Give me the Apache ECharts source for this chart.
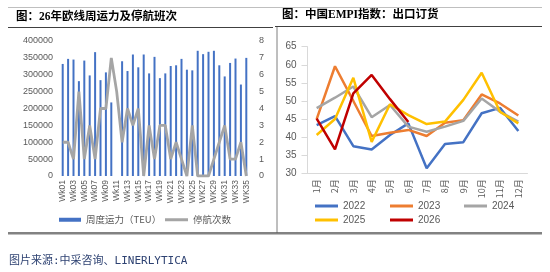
<!DOCTYPE html>
<html>
<head>
<meta charset="utf-8">
<title>欧线周运力 / EMPI出口订货</title>
<script src="https://cdn.jsdelivr.net/npm/echarts@6/dist/echarts.min.js"></script>
<style>
  html, body { margin: 0; padding: 0; background: #fff; }
  #main { width: 550px; height: 272px; }
</style>
</head>
<body>
<div id="main"></div>
<script>
// 左图：26年欧线周运力及停航班次
var weeks = ['Wk01', 'Wk02', 'Wk03', 'Wk04', 'Wk05', 'Wk06', 'Wk07', 'Wk08', 'Wk09', 'Wk10',
  'Wk11', 'Wk12', 'Wk13', 'Wk14', 'Wk15', 'Wk16', 'Wk17', 'Wk18', 'Wk19', 'WK20',
  'WK21', 'WK22', 'WK23', 'WK24', 'WK25', 'WK26', 'WK27', 'WK28', 'WK29', 'WK30',
  'WK31', 'WK32', 'WK33', 'WK34', 'WK35'];
var capacity = [332000, 347000, 345000, 281000, 342000, 298000, 367000, 284000, 307000, 218000,
  null, 340000, 311000, 360000, 322000, 360000, 304000, 353000, 290000, 304000,
  326000, 328000, 347000, 315000, 313000, 371000, 361000, 368000, 371000, 328000,
  295000, 335000, 348000, 271000, 350000];
var blankSailings = [2, 2, 1, 5, 1, 3, 1, 4, 4, 7,
  5, 2, 4, 3, 4, 0, 3, 1, 3, 3,
  1, 2, 1, 0, 3, 0, 0, 0, 1, 2,
  3, 1, 1, 2, 0];

// 右图：中国EMPI指数：出口订货
var months = ['1月', '2月', '3月', '4月', '5月', '6月', '7月', '8月', '9月', '10月', '11月', '12月'];
var empi2022 = [43.3, 45.8, 37.5, 36.6, 40.6, 43.8, 31.4, 38.1, 38.6, 46.6, 48.1, 41.7];
var empi2023 = [45.0, 59.6, 50.0, 40.3, 41.2, 42.0, 40.3, 44.0, 44.7, 51.8, 49.3, 46.0];
var empi2024 = [48.0, 50.9, 54.0, 45.5, 48.9, 42.9, 41.5, 42.9, 44.5, 50.7, 47.0, 44.3];
var empi2025 = [40.6, 45.0, 56.4, 38.7, 49.1, 46.1, 43.6, 44.3, 50.3, 57.8, 47.0, 43.8];
var empi2026 = [45.1, 36.6, 52.1, 57.2, 50.5, 44.2];

var years = ['2022', '2023', '2024', '2025', '2026'];
var yearData = [empi2022, empi2023, empi2024, empi2025, empi2026];
var yearColors = ['#4472C4', '#ED7D31', '#A5A5A5', '#FFC000', '#C00000'];
// 图例位置（两行排列）
var legendPos = [[315, 201], [390, 201], [464, 201], [315, 215], [390, 215]];

var labelColor = '#595959';
var numFont = 'Arial, "Liberation Sans", sans-serif';
var titleFont = '"Liberation Serif", "Noto Sans CJK SC", serif';
var cjkFont = '"Noto Sans CJK SC", sans-serif';

var myChart = echarts.init(document.getElementById('main'));

var lineSeries = years.map(function (y, i) {
  return {
    name: y,
    type: 'line',
    xAxisIndex: 1,
    yAxisIndex: 2,
    data: yearData[i],
    symbol: 'none',
    lineStyle: { color: yearColors[i], width: 2.5 },
    itemStyle: { color: yearColors[i] },
    z: 3 + i
  };
});

var yearLegends = years.map(function (y, i) {
  return {
    left: legendPos[i][0],
    top: legendPos[i][1],
    data: [y],
    icon: 'rect',
    itemWidth: 23,
    itemHeight: 3,
    padding: 0,
    textStyle: { color: labelColor, fontSize: 10, fontFamily: numFont }
  };
});

option = {
  animation: false,
  backgroundColor: '#fff',
  grid: [
    { left: 60, top: 41, width: 189, height: 135 },
    { left: 307.5, top: 46.7, width: 220, height: 126.6 }
  ],
  xAxis: [
    {
      gridIndex: 0,
      type: 'category',
      data: weeks,
      axisLine: { show: false },
      axisTick: { show: false },
      axisLabel: {
        interval: 1,
        rotate: 90,
        margin: 4,
        color: labelColor,
        fontSize: 8.5,
        fontFamily: numFont
      }
    },
    {
      gridIndex: 1,
      type: 'category',
      data: months,
      axisLine: { lineStyle: { color: '#D9D9D9', width: 1 } },
      axisTick: { show: false },
      axisLabel: {
        interval: 0,
        rotate: 90,
        margin: 6,
        color: labelColor,
        fontSize: 9,
        fontFamily: cjkFont
      }
    }
  ],
  yAxis: [
    {
      gridIndex: 0,
      type: 'value',
      min: 0,
      max: 400000,
      interval: 50000,
      splitLine: { show: false },
      axisLine: { show: false },
      axisTick: { show: false },
      axisLabel: {
        margin: 7, color: labelColor, fontSize: 9, fontFamily: numFont,
        formatter: function (v) { return String(v); }
      }
    },
    {
      gridIndex: 0,
      type: 'value',
      position: 'right',
      min: 0,
      max: 8,
      interval: 1,
      splitLine: { show: false },
      axisLine: { show: false },
      axisTick: { show: false },
      axisLabel: { margin: 10, color: labelColor, fontSize: 9, fontFamily: numFont }
    },
    {
      gridIndex: 1,
      type: 'value',
      min: 30,
      max: 65,
      interval: 5,
      splitLine: { show: false },
      axisLine: { show: true, lineStyle: { color: '#D9D9D9' } },
      axisTick: { show: true, length: 6, lineStyle: { color: '#D9D9D9' } },
      axisLabel: { margin: 11, color: labelColor, fontSize: 10, fontFamily: numFont }
    }
  ],
  legend: [
    {
      left: 59, top: 215, data: ['周度运力（TEU）'], icon: 'rect',
      itemWidth: 22, itemHeight: 4, padding: 0,
      textStyle: { color: labelColor, fontSize: 9.5, fontFamily: cjkFont }
    },
    {
      left: 165, top: 215, data: ['停航次数'], icon: 'rect',
      itemWidth: 23, itemHeight: 3, padding: 0,
      textStyle: { color: labelColor, fontSize: 9.5, fontFamily: cjkFont }
    }
  ].concat(yearLegends),
  series: [
    {
      name: '周度运力（TEU）',
      type: 'bar',
      xAxisIndex: 0,
      yAxisIndex: 0,
      data: capacity,
      barWidth: 2,
      itemStyle: { color: '#4472C4' },
      z: 2
    },
    {
      name: '停航次数',
      type: 'line',
      xAxisIndex: 0,
      yAxisIndex: 1,
      data: blankSailings,
      symbol: 'none',
      lineStyle: { color: '#A5A5A5', width: 2.8 },
      itemStyle: { color: '#A5A5A5' },
      z: 3
    }
  ].concat(lineSeries),
  graphic: [
    // 边框线
    { type: 'line', shape: { x1: 8, y1: 7.5, x2: 542, y2: 7.5 }, style: { stroke: '#BFBFBF', lineWidth: 1 } },
    { type: 'line', shape: { x1: 8, y1: 27.5, x2: 273, y2: 27.5 }, style: { stroke: '#404040', lineWidth: 1 } },
    { type: 'line', shape: { x1: 275, y1: 26.5, x2: 542, y2: 26.5 }, style: { stroke: '#404040', lineWidth: 1 } },
    { type: 'line', shape: { x1: 277, y1: 27, x2: 277, y2: 233 }, style: { stroke: '#7F7F7F', lineWidth: 1 } },
    { type: 'line', shape: { x1: 8, y1: 233, x2: 542, y2: 233 }, style: { stroke: '#595959', lineWidth: 1.5 } },
    { type: 'line', shape: { x1: 8, y1: 234.5, x2: 542, y2: 234.5 }, style: { stroke: '#BFBFBF', lineWidth: 1 } },
    // 标题
    {
      type: 'text', left: 16, top: 11,
      style: { text: '图：26年欧线周运力及停航班次', fill: '#000', font: 'bold 11.5px ' + titleFont }
    },
    {
      type: 'text', left: 282, top: 9.5,
      style: { text: '图：中国EMPI指数：出口订货', fill: '#000', font: 'bold 11.5px ' + titleFont }
    },
    // 来源
    {
      type: 'text', left: 9, top: 256,
      style: { text: '图片来源:中采咨询、LINERLYTICA', fill: '#2E4272', font: '11px "DejaVu Sans Mono", "Noto Sans CJK SC", monospace' }
    }
  ]
};

myChart.setOption(option);
</script>
</body>
</html>
